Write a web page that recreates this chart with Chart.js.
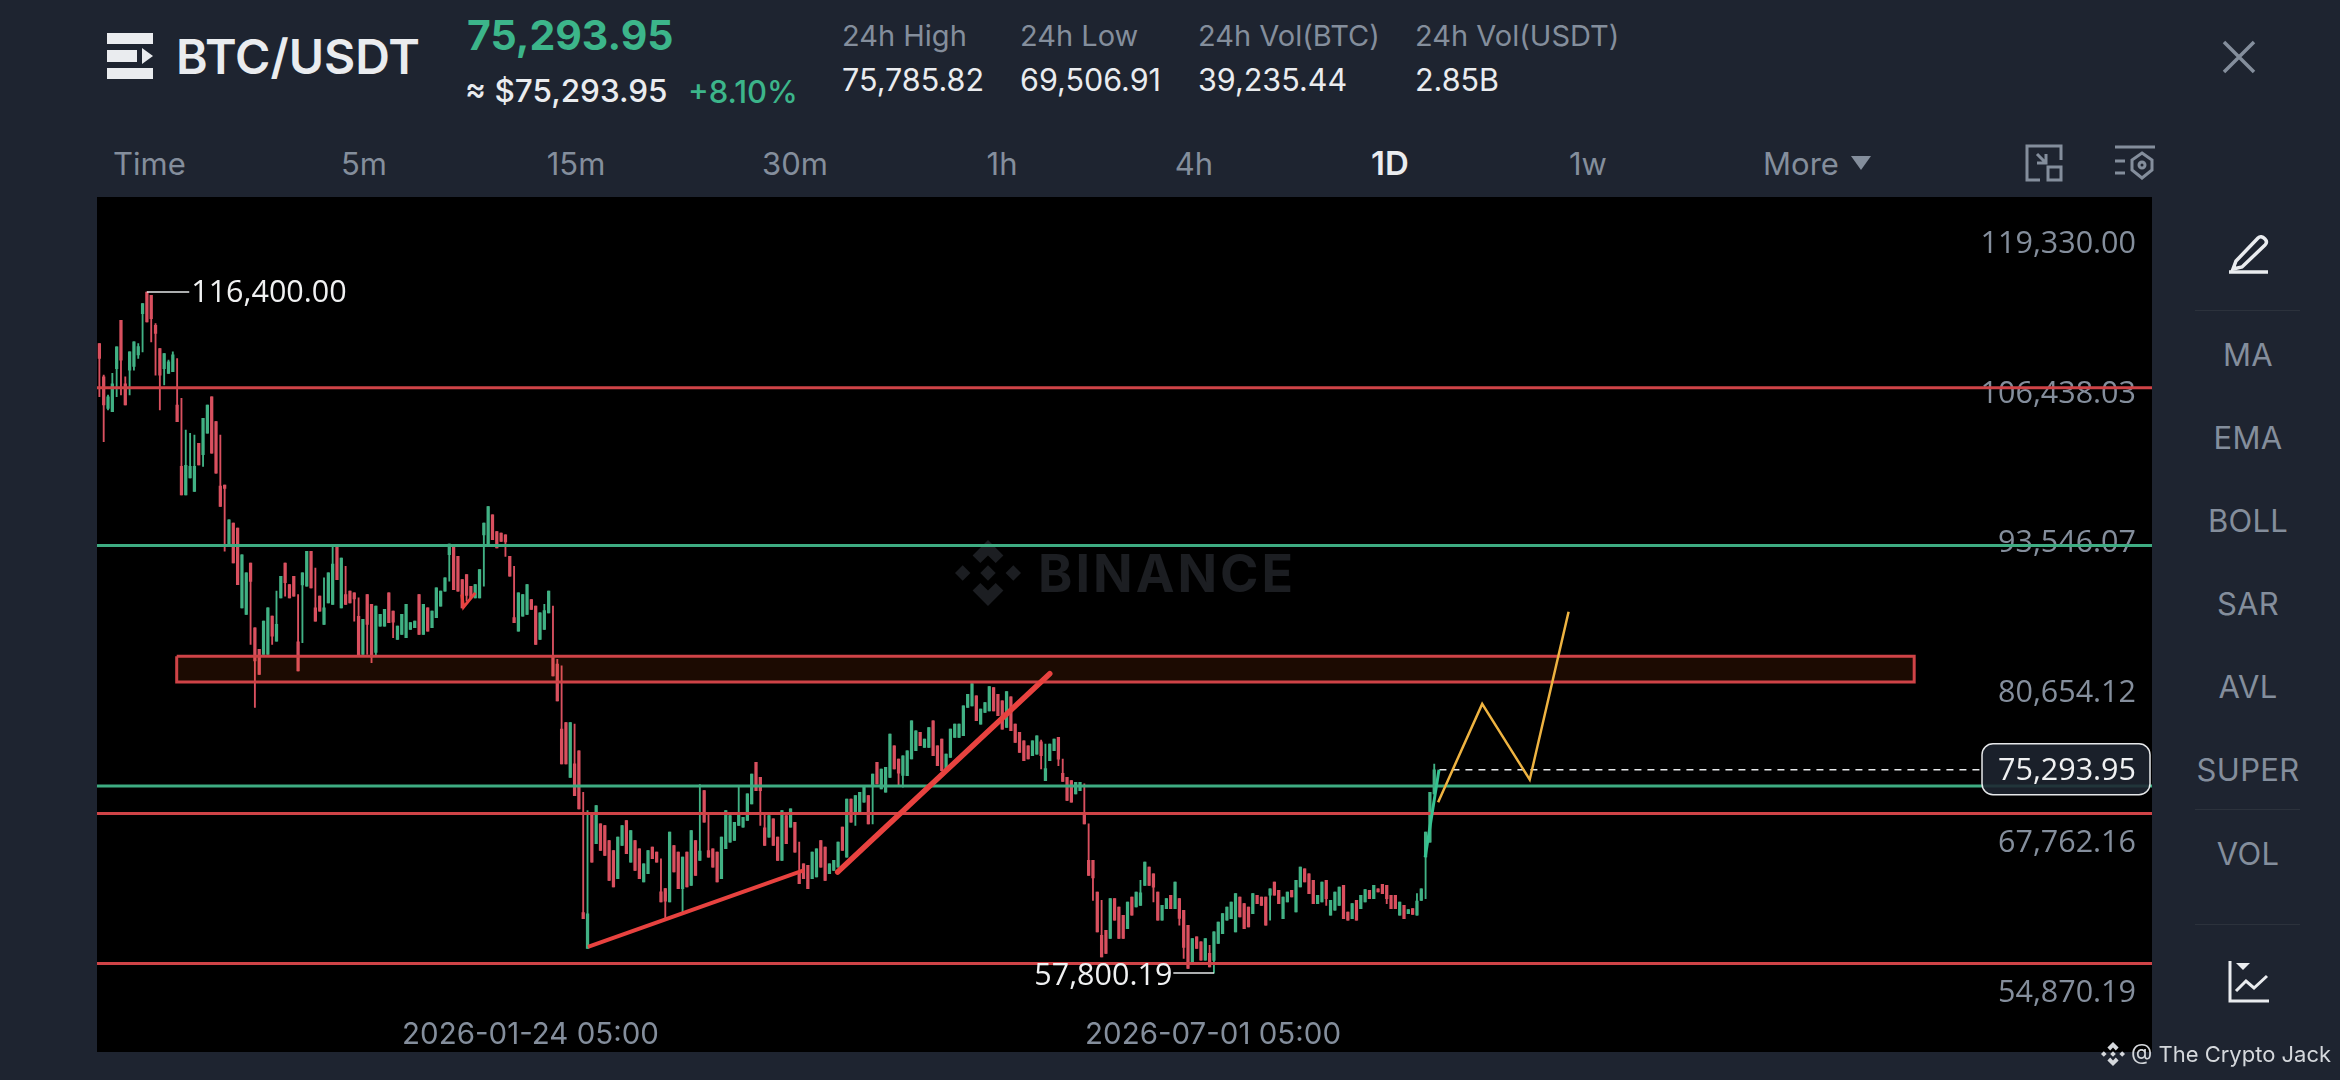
<!DOCTYPE html>
<html>
<head>
<meta charset="utf-8">
<title>BTC/USDT</title>
<script src="https://cdn.jsdelivr.net/npm/chart.js@4/dist/chart.umd.min.js"></script>
<style>
    html, body { margin: 0; padding: 0; background: #1e2430; }
    body { width: 2340px; height: 1080px; position: relative; overflow: hidden; font-family: Inter, sans-serif; color: #848e9c; }
    .t { position: absolute; white-space: nowrap; line-height: 1; transform: translateY(-50%); }
    .c { transform: translate(-50%, -50%); }
    .w { color: #eaecef; }
    .g { color: #3cb58a; }
    .stat { font-size: 29px; }
    .val { font-size: 30.5px; }
    .tab { font-size: 31px; top: 163px; }
    .side { font-size: 31px; left: 2248px; letter-spacing: 0.3px; }
    .sep { position: absolute; left: 2195px; width: 105px; height: 1px; background: #2c323c; }
    #plot { position: absolute; left: 97px; top: 197px; width: 2055px; height: 855px; background: #000; }
    #chart { position: absolute; left: 0; top: 0; }
    #mark { position: absolute; left: 858px; top: 343px; width: 66px; height: 66px; }
    svg { position: absolute; }
</style>
</head>
<body>
<svg style="left:107px;top:33px" width="46" height="46" viewBox="0 0 46 46" fill="#eaecef">
    <rect x="0" y="0" width="46" height="11"/>
    <rect x="0" y="17" width="30" height="12"/>
    <polygon points="35,15 46,23 35,31"/>
    <rect x="0" y="35" width="46" height="11"/>
</svg>
<div class="t w" style="left:176px;top:57px;font-size:48px;font-weight:600">BTC/USDT</div>
<div class="t g" style="left:467px;top:35px;font-size:41px;font-weight:700">75,293.95</div>
<div class="t w" style="left:465px;top:91px;font-size:31.5px;font-weight:500">≈ $75,293.95</div>
<div class="t g" style="left:688px;top:91px;font-size:31px;font-weight:500">+8.10%</div>

<div class="t stat" style="left:842px;top:35px">24h High</div>
<div class="t val w" style="left:842px;top:80px">75,785.82</div>
<div class="t stat" style="left:1020px;top:35px">24h Low</div>
<div class="t val w" style="left:1020px;top:80px">69,506.91</div>
<div class="t stat" style="left:1198px;top:35px">24h Vol(BTC)</div>
<div class="t val w" style="left:1198px;top:80px">39,235.44</div>
<div class="t stat" style="left:1415px;top:35px">24h Vol(USDT)</div>
<div class="t val w" style="left:1415px;top:80px">2.85B</div>

<svg style="left:2222px;top:40px" width="34" height="34" viewBox="0 0 34 34" stroke="#848e9c" stroke-width="3.5" fill="none">
    <path d="M2 2 L32 32 M32 2 L2 32"/>
</svg>

<div class="t tab" style="left:113px">Time</div>
<div class="t tab c" style="left:364px">5m</div>
<div class="t tab c" style="left:576px">15m</div>
<div class="t tab c" style="left:795px">30m</div>
<div class="t tab c" style="left:1002px">1h</div>
<div class="t tab c" style="left:1194px">4h</div>
<div class="t tab c w" style="left:1390px;font-weight:600;font-size:33px">1D</div>
<div class="t tab c" style="left:1588px">1w</div>
<div class="t tab c" style="left:1801px">More</div>
<svg style="left:1851px;top:156px" width="20" height="14" viewBox="0 0 20 14" fill="#848e9c"><polygon points="0,0 20,0 10,14"/></svg>
<svg style="left:2025px;top:144px" width="38" height="38" viewBox="0 0 38 38" stroke="#848e9c" stroke-width="3" fill="none">
    <path d="M15 36 H2 V2 H36 V16"/><path d="M12 10 L21 19 M21 10 V19 H12"/><rect x="23" y="23" width="13" height="13"/>
</svg>
<svg style="left:2115px;top:145px" width="40" height="36" viewBox="0 0 40 36" stroke="#848e9c" stroke-width="3" fill="none">
    <path d="M0 2 H40 M0 16 H10 M0 28 H10"/><polygon points="27,8 37,15 37,25 27,33 17,25 17,15"/><circle cx="27" cy="20" r="3"/>
</svg>

<svg style="left:2228px;top:232px" width="42" height="42" viewBox="0 0 42 42" stroke="#eaecef" stroke-width="3.5" fill="none">
    <path d="M8 29 L30 6 Q33 3 37 7 Q40 10 37 13 L14 35 L5 37 Z"/><path d="M1 40 H40"/>
</svg>
<div class="sep" style="top:310px"></div>
<div class="t side c" style="top:354px">MA</div>
<div class="t side c" style="top:437px">EMA</div>
<div class="t side c" style="top:520px">BOLL</div>
<div class="t side c" style="top:603px">SAR</div>
<div class="t side c" style="top:686px">AVL</div>
<div class="t side c" style="top:769px">SUPER</div>
<div class="sep" style="top:809px"></div>
<div class="t side c" style="top:853px">VOL</div>
<div class="sep" style="top:924px"></div>
<svg style="left:2228px;top:961px" width="42" height="42" viewBox="0 0 42 42" stroke="#eaecef" stroke-width="3" fill="none">
    <path d="M2 0 V40 H41"/><path d="M8 30 L18 20 L26 27 L39 15"/><polygon points="8,2 22,2 15,9" fill="#eaecef" stroke="none"/>
</svg>

<div id="plot">
    <svg id="mark" viewBox="0 0 60 60" fill="#1c1e22">
        <polygon points="30,0 44,14 37,21 30,14 23,21 16,14"/>
        <polygon points="7,23 14,30 7,37 0,30"/><polygon points="53,23 60,30 53,37 46,30"/>
        <polygon points="30,23 37,30 30,37 23,30"/>
        <polygon points="30,60 44,46 37,39 30,46 23,39 16,46"/>
    </svg>
    <div class="t" style="left:941px;top:377px;font-size:52px;font-weight:700;color:#1c1e22;letter-spacing:3px">BINANCE</div>
    <canvas id="chart" width="2055" height="855"></canvas>
</div>

<svg style="left:2101px;top:1042px" width="24" height="24" viewBox="0 0 60 60" fill="#d5d8dc">
    <polygon points="30,0 44,14 37,21 30,14 23,21 16,14"/>
    <polygon points="7,23 14,30 7,37 0,30"/><polygon points="53,23 60,30 53,37 46,30"/>
    <polygon points="30,23 37,30 30,37 23,30"/>
    <polygon points="30,60 44,46 37,39 30,46 23,39 16,46"/>
</svg>
<div class="t" style="left:2131px;top:1054px;font-size:22px;color:#d5d8dc">@ The Crypto Jack</div>

<script>
const opens = [
    111970,109110,106390,106100,109800,113970,108500,109680,110000,111000,
    114550,116400,116115,113540,111540,109800,109400,109540,106680,101400,
    98955,100400,99240,103390,102400,104250,107390,105250,99700,99800,
    94670,96520,96100,89230,88660,93090,87515,85650,85230,85230,
    88520,86370,90090,93090,91230,91950,86300,91200,91090,94090,
    89230,90230,87800,89660,89520,94520,89230,90375,90660,90520,
    88500,85230,90375,89520,85400,87660,87660,90520,88950,86520,
    86950,86660,87370,87515,90375,86950,89230,87515,88380,89380,
    90660,93800,94520,93660,91660,92090,91090,90090,90090,95500,
    94520,97240,95800,95660,95520,93660,88400,87230,88520,88660,
    89950,89380,86520,87370,88800,85000,84400,78800,79360,74640,
    75800,76930,63000,59920,71640,68930,70640,70500,69210,68350,
    65920,68780,70930,67350,69210,68500,65640,66350,68640,68210,
    64800,65070,63920,68780,68210,65070,68210,65350,69210,67500,
    73500,68350,68500,68210,65920,68500,69070,69210,70500,70360,
    70930,72360,75930,74640,70300,69500,71070,69500,67500,71360,
    70360,70780,66500,67210,67070,65920,66070,69210,68640,66350,
    66640,66920,70360,67780,72780,71630,71640,72500,73070,73900,
    75930,73640,73360,74640,77360,76220,74800,74790,76220,76930,
    78510,77220,77220,79510,77360,77930,75360,76360,78080,78080,
    78220,80650,80790,81650,79220,80220,80360,82370,81790,81220,
    78940,81570,79220,78510,77790,77360,76500,76640,77700,74360,
    76080,76930,78080,75000,74650,74360,73220,73500,71500,67500,
    67500,64780,61060,61490,60780,64210,63490,62780,61630,64350,
    63490,63630,65350,66920,66350,64780,62350,63350,64500,63350,
    64210,63210,61920,58630,60920,60490,58920,59500,58900,60350,
    61200,62350,62490,61350,64350,63780,63490,62920,64500,64350,
    64350,64500,65640,64920,62490,63920,64920,63060,65210,66780,
    66350,65780,63780,63920,65780,62780,63210,63630,65350,63060,
    62490,64060,63350,63920,64920,64210,65060,65440,65350,64500,
    64500,62780,63630,62920,63350,62780,64060,67800,69070,73216
];
const highs = [
    111970,109250,107535,109400,111680,113970,109110,111250,112110,111970,
    115400,116400,116115,113680,111540,111110,110540,111250,110680,107250,
    104530,104250,104100,103390,105530,106680,107390,105250,104100,99800,
    96800,96520,96100,93800,92240,93090,87515,85650,88090,89230,
    88520,90660,91950,93090,91230,91950,90375,92240,94090,94090,
    92660,90230,91800,92240,94520,94520,93520,92800,90660,90520,
    90090,88230,90375,89520,89380,88660,89090,90520,88950,87660,
    88660,89520,87950,88090,90375,89520,89230,88950,90950,90660,
    91800,94720,94520,93660,91660,92090,91090,91230,92520,96520,
    97950,97240,95800,95660,95520,93660,92800,90520,90375,91230,
    89950,89380,88800,89520,90660,89380,84800,84230,79360,79360,
    79220,76930,73360,71790,71640,72210,70640,70500,69210,68350,
    69500,70500,70930,70070,69210,68500,67210,68350,68640,68210,
    67640,65070,69930,68780,68210,67780,68210,70070,69210,74020,
    73500,71500,68500,68210,69500,71790,71360,70780,73930,71210,
    73220,74930,75930,74640,71500,71360,71070,69500,71790,71360,
    71930,70780,69070,67210,67070,68210,68500,69210,68640,67210,
    67500,69070,70360,72780,72780,73070,73360,73790,73070,74930,
    75930,75360,75500,78360,77360,76220,76500,76930,79510,78650,
    78510,77930,78930,79510,77360,77930,76640,78790,79220,79220,
    80790,81790,82710,81650,80510,81080,82450,82370,81790,81220,
    82020,81570,79220,78510,77790,77360,77790,78220,77850,77500,
    77500,77930,78080,76220,74650,74360,74220,74220,74080,70640,
    67500,64780,64060,61490,64210,64210,63490,62780,63920,64350,
    64780,65780,67350,66920,66350,64780,63630,64210,64500,65640,
    64210,63210,61920,60770,60920,60490,60770,60200,61350,62200,
    62920,63490,63920,64640,64350,63780,63490,64640,64500,64350,
    64350,65060,65640,64920,64350,64780,64920,65780,66920,66780,
    66350,65780,64500,65640,65780,64060,64780,65210,65350,63060,
    63780,64060,64500,64980,64920,65350,65060,65440,65350,64500,
    64500,63920,63630,63260,63350,64640,65060,69930,73360,75790
];
const lows = [
    107390,103530,106250,106100,107390,107540,106680,107540,109680,110680,
    111250,113830,112110,109250,106250,108400,109400,109540,105250,98955,
    98955,100400,99240,101530,101400,104250,102530,100820,97950,94100,
    94670,93090,91230,89230,88660,86090,80650,83510,85230,85230,
    86090,86370,90090,90230,90090,90230,83800,86230,91090,90950,
    88090,88950,87800,89660,89520,91660,89230,89520,89660,88090,
    85080,85230,85230,84520,85080,87660,87660,87950,86660,86520,
    86950,86660,87370,87515,86950,86950,87230,87515,88380,89380,
    90660,91520,90800,90660,89230,89800,90090,90090,90090,91090,
    94520,95090,94380,94950,93660,91950,87950,87230,88520,88660,
    89090,86090,86520,87370,88800,83370,81220,75790,75790,74640,
    73070,71930,62490,59920,67350,68930,68350,67920,65780,65210,
    65920,68780,68070,67350,66640,65920,65640,66350,67640,67350,
    63920,62490,63920,66500,65070,63070,65210,65350,66210,67500,
    70780,67780,66920,65640,65920,68500,69070,69210,70500,70360,
    70930,72360,73500,70500,68780,69500,68780,67500,67500,68930,
    70360,68210,65490,65920,65070,65920,66070,66920,65780,66350,
    66640,66920,68350,67780,70780,70500,71640,72500,70640,70640,
    74070,73640,73360,74640,75360,73930,73790,74790,76220,76930,
    77360,77220,77220,76500,75640,75220,75360,76360,78080,78080,
    78220,80650,80790,79510,79220,80220,80360,80360,79940,78790,
    78940,78650,77650,76790,76080,76220,76500,76640,75360,74360,
    76080,76930,75650,74300,72650,72500,73220,73500,70640,66210,
    64060,61350,59200,59490,60780,62350,60780,60780,61630,62780,
    63490,63630,65350,65350,63920,62350,62350,63350,63350,63350,
    61920,59060,58200,58630,59920,58920,58920,58340,57800.19,60350,
    61200,62350,62490,61350,62630,61630,61780,62920,63780,63630,
    61920,62350,64500,63780,62490,63920,64350,63060,65210,65640,
    64640,63780,63780,63920,63630,62780,63210,63630,62490,62350,
    62490,62350,63350,63920,64210,64210,64780,64640,63780,63350,
    63350,62780,62490,62920,62860,62780,64060,64210,69070,73216
];
const closes = [
    110680,106680,107390,108500,111680,110540,106680,111250,112110,111700,
    115400,113830,114100,112830,109250,111110,110400,111000,105250,98955,
    101500,101400,101400,101530,105530,106680,102530,100820,97950,99500,
    96800,93090,91230,93800,92240,91500,84655,83510,88090,89230,
    86800,87800,91950,91400,90090,90230,83800,92240,94090,90950,
    88090,88950,89230,92240,93000,91660,93520,89520,89660,90000,
    85080,88230,87800,85000,89380,88660,89090,87950,88000,87660,
    88660,89520,87950,88090,86950,89520,87230,88950,90950,90660,
    91800,94720,90800,90660,89230,90300,90090,91230,92520,96520,
    97950,95090,94380,94950,94900,91950,87950,90520,90375,91230,
    89090,86090,88800,89000,90660,83370,81220,75790,75790,79360,
    73070,71930,62490,62900,67350,72210,68350,67920,65780,65210,
    69500,70500,68070,70070,66640,65920,67210,68350,67640,67350,
    63920,64000,69930,66500,65070,67780,65210,70070,66210,68300,
    70780,67780,66920,65640,69500,71790,71360,70780,71500,71210,
    73220,74930,73500,73500,68780,71360,68780,67500,71790,68930,
    71930,68210,65490,65920,65070,68210,68500,66920,65780,67210,
    67500,69070,68350,72780,70780,73070,73360,73790,70640,74930,
    74070,75360,75500,78360,75360,75000,76500,76930,79510,78650,
    77360,77930,78930,76500,75640,75220,76640,78790,79220,79220,
    80790,81790,82710,79510,80510,81080,82450,80360,79940,78790,
    82020,78650,77650,76790,76080,76220,77790,78220,76500,75400,
    77500,77930,76200,74300,72650,72500,74220,74220,70640,66210,
    66000,61350,59200,59490,64210,62350,60780,60780,63920,62780,
    64780,64700,67350,65350,65200,62350,63630,64210,63350,65640,
    62500,60000,58200,60770,59920,58920,60770,58340,61350,62200,
    62920,63490,63920,64640,62630,61630,61780,64640,63780,63630,
    61920,65060,64500,63780,64350,64780,64350,65780,66920,65640,
    64640,63780,64500,65640,64200,64060,64780,65210,62490,62350,
    63780,62350,64500,64980,64210,65350,64780,64640,64200,63350,
    63350,63920,62490,63260,62860,64000,65060,69930,73360,75293.95
];

const yTicks = [119330, 106438.03, 93546.07, 80654.12, 67762.16, 54870.19];
const xTicks = [99.8, 257.8];
const xTickLabels = ['2026-01-24 05:00', '2026-07-01 05:00'];

const redLevels = [108165, 71528, 58632];
const greenLevels = [94582, 73900];
const zoneX = [17.9, 420.1];
const zoneTop = 85060;
const zoneBottom = 82853;

const thinTrendX = [113.1, 163];
const thinTrendY = [60057, 66637];
const thickTrendX = [170.9, 220];
const thickTrendY = [66491, 83566];
const smallTrendX = [83.9, 84.3, 87];
const smallTrendY = [90375, 89290, 90520];
const greenStrokeX = [306.9, 310.1];
const greenStrokeY = [67778, 75304];
const forecastX = [309.9, 320.1, 331.1, 340.1];
const forecastY = [72500, 80966, 74445, 88885];

const lastPrice = 75293.95;
const lastPriceX = [310.2, 435.8];
const highPrice = 116400;
const highLeaderX = [11, 20.8];
const lowPrice = 57800.19;
const lowLeaderX = [248.6, 258];

const xMin = -0.55;
const xMax = 475.15;
const yMin = 54454;
const yMax = 124380;

const RED = '#d9505f';
const GREEN = '#41b184';
const LEVEL_RED = '#cf4347';
const LEVEL_GREEN = '#3eac82';

function fmt(v) {
    return v.toLocaleString('en-US', { minimumFractionDigits: 2, maximumFractionDigits: 2 });
}

function lineSet(xs, ys, color, width, extra) {
    return Object.assign({
        type: 'line',
        data: xs.map((x, i) => ({ x, y: ys[i] })),
        borderColor: color,
        borderWidth: width,
        pointRadius: 0,
        tension: 0,
        fill: false,
        order: 0
    }, extra || {});
}

const candleColors = opens.map((o, i) => closes[i] >= o ? GREEN : RED);

const datasets = [
    lineSet(smallTrendX, smallTrendY, '#e8423f', 3),
    lineSet(thinTrendX, thinTrendY, '#e8423f', 4),
    lineSet(thickTrendX, thickTrendY, '#e8423f', 5.5, { borderCapStyle: 'round' }),
    lineSet(forecastX, forecastY, '#eeb341', 2.5),
    lineSet(greenStrokeX, greenStrokeY, '#36c291', 3),
    lineSet(lastPriceX, lastPriceX.map(() => lastPrice), '#e6e8ea', 1.5, { borderDash: [7, 6] }),
    lineSet(highLeaderX, highLeaderX.map(() => highPrice), '#e6e8ea', 1.5),
    lineSet(lowLeaderX, lowLeaderX.map(() => lowPrice), '#e6e8ea', 1.5),
    lineSet([zoneX[0], zoneX[1], zoneX[1], zoneX[0], zoneX[0]], [zoneTop, zoneTop, zoneBottom, zoneBottom, zoneTop], LEVEL_RED, 3),
    lineSet(zoneX, [zoneTop, zoneTop], 'transparent', 0, { fill: { value: zoneBottom }, backgroundColor: 'rgba(255,100,20,0.11)' })
];
redLevels.forEach(v => datasets.push(lineSet([xMin, xMax], [v, v], LEVEL_RED, 3)));
greenLevels.forEach(v => datasets.push(lineSet([xMin, xMax], [v, v], LEVEL_GREEN, 3)));

datasets.push({
    type: 'bar',
    data: opens.map((o, i) => ({ x: i, y: [o, closes[i]] })),
    backgroundColor: candleColors,
    barThickness: 2.6,
    grouped: false,
    order: 1
});
datasets.push({
    type: 'bar',
    data: highs.map((h, i) => ({ x: i, y: [lows[i], h] })),
    backgroundColor: candleColors,
    barThickness: 1.2,
    grouped: false,
    order: 2
});

// price tags that sit on the chart, placed through the scales
const priceTags = {
    id: 'priceTags',
    afterDatasetsDraw(chart) {
        const { ctx, scales: { x, y }, chartArea } = chart;
        ctx.save();
        ctx.font = '30.5px "Open Sans", sans-serif';
        ctx.textBaseline = 'middle';
        ctx.fillStyle = '#f0f1f2';
        ctx.textAlign = 'left';
        ctx.fillText(fmt(highPrice), x.getPixelForValue(highLeaderX[1]) + 2, y.getPixelForValue(highPrice) + 1);
        ctx.textAlign = 'right';
        ctx.fillText(fmt(lowPrice), x.getPixelForValue(lowLeaderX[0]) - 1, y.getPixelForValue(lowPrice) + 3);

        const py = y.getPixelForValue(lastPrice);
        const left = x.getPixelForValue(lastPriceX[1]);
        ctx.beginPath();
        ctx.roundRect(left, py - 26, chartArea.right - left - 2, 51, 11);
        ctx.fillStyle = 'rgba(30,36,48,0.88)';
        ctx.fill();
        ctx.strokeStyle = '#e6e8ea';
        ctx.lineWidth = 1.5;
        ctx.stroke();
        ctx.fillStyle = '#f0f1f2';
        ctx.fillText(fmt(lastPrice), chartArea.right - 16, py + 2);
        ctx.restore();
    }
};

new Chart(document.getElementById('chart'), {
    data: { datasets },
    plugins: [priceTags],
    options: {
        responsive: false,
        animation: false,
        events: [],
        layout: { padding: 0 },
        plugins: { legend: { display: false }, tooltip: { enabled: false } },
        scales: {
            x: {
                type: 'linear',
                offset: false,
                min: xMin,
                max: xMax,
                grid: { display: false, drawTicks: false },
                border: { display: false },
                afterBuildTicks: axis => { axis.ticks = xTicks.map(value => ({ value })); },
                afterFit: axis => { axis.height = 40; },
                ticks: {
                    autoSkip: false,
                    maxRotation: 0,
                    padding: 5,
                    color: '#848e9c',
                    font: { family: 'Inter', size: 29.5 },
                    callback: (v, i) => xTickLabels[i]
                }
            },
            y: {
                type: 'linear',
                position: 'right',
                min: yMin,
                max: yMax,
                grid: { display: false, drawTicks: false },
                border: { display: false },
                afterBuildTicks: axis => { axis.ticks = yTicks.map(value => ({ value })); },
                ticks: {
                    autoSkip: false,
                    mirror: true,
                    padding: -16,
                    labelOffset: -14,
                    color: '#848e9c',
                    font: { family: 'Open Sans', size: 30.5 },
                    callback: v => fmt(v)
                }
            }
        }
    }
});
</script>
</body>
</html>
